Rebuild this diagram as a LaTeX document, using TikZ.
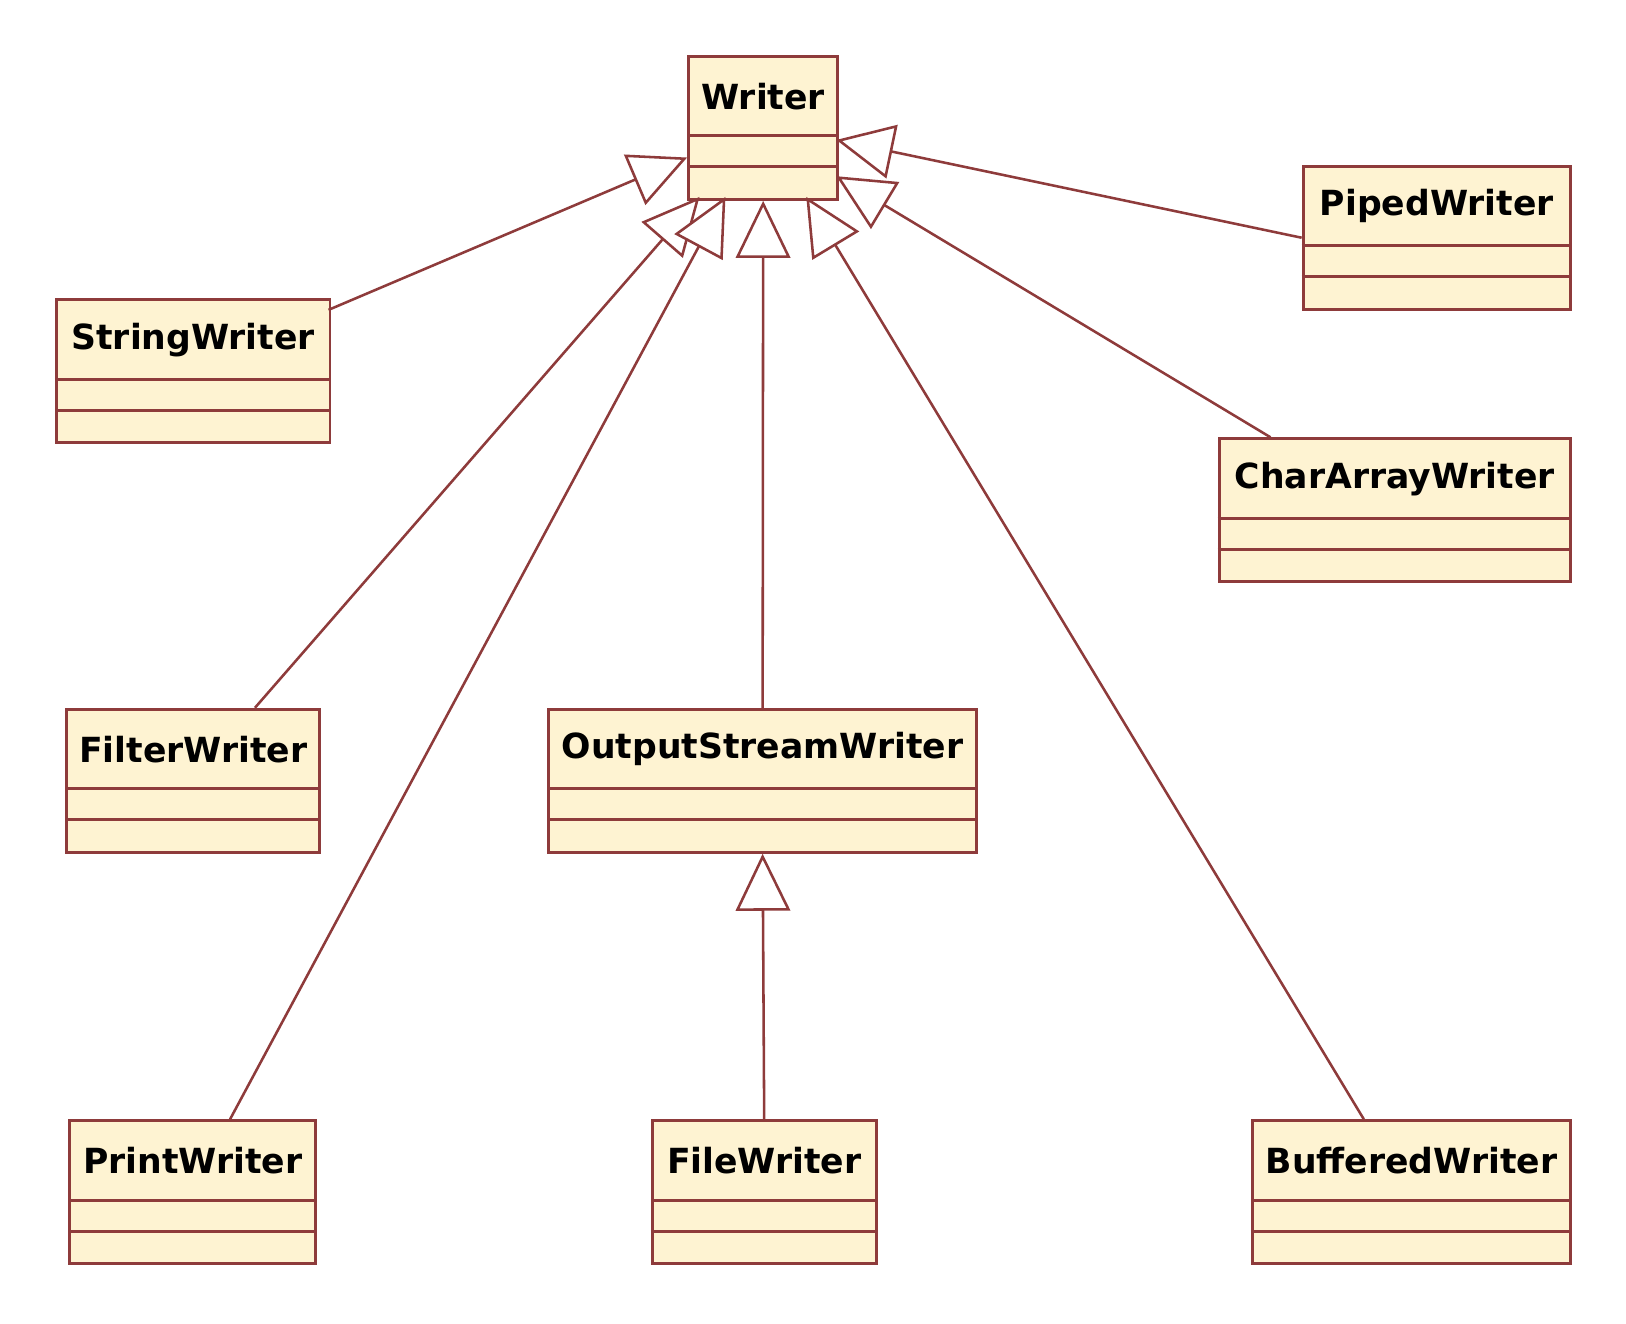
\documentclass[tikz,border=0pt]{standalone}
\usepackage{fontspec}
\setmainfont{DejaVu Sans}
\usetikzlibrary{calc,arrows.meta}
\definecolor{umlfill}{HTML}{FEF3D2}
\definecolor{umlline}{HTML}{8E3B3B}
\tikzset{
  cls/.style={draw=umlline,fill=umlfill,line width=1.6pt,minimum height=2.76cm,inner sep=0pt},
  inherit/.style={draw=umlline,line width=1.4pt,-{Triangle[open,length=1.1cm,width=1.05cm,fill=white,line width=1.4pt]}}
}
% class box: name, x, y, width, label
\newcommand\umlbox[5]{%
  \node[cls,anchor=north west,minimum width=#4cm] (#1) at (#2,#3) {};
  \node[font=\bfseries\fontsize{19}{21}\selectfont] (#1-t) at ($(#1.north)+(0,-0.8)$) {#5};
  \draw[umlline,line width=1.6pt] ($(#1.north west)+(0,-1.56)$) -- ($(#1.north east)+(0,-1.56)$);
  \draw[umlline,line width=1.6pt] ($(#1.north west)+(0,-2.16)$) -- ($(#1.north east)+(0,-2.16)$);
}
\begin{document}
\begin{tikzpicture}
  \useasboundingbox (0,0) rectangle (31.38,-25.55);

  % Classes
  \umlbox{wr}{13.26}{-1.06}{2.88}{Writer}
  \umlbox{sw}{1.06}{-5.76}{5.28}{StringWriter}
  \umlbox{pw}{25.12}{-3.18}{5.16}{PipedWriter}
  \umlbox{ca}{23.5}{-8.44}{6.78}{CharArrayWriter}
  \umlbox{fw}{1.26}{-13.66}{4.88}{FilterWriter}
  \umlbox{os}{10.56}{-13.66}{8.26}{OutputStreamWriter}
  \umlbox{pr}{1.32}{-21.6}{4.74}{PrintWriter}
  \umlbox{fi}{12.56}{-21.6}{4.32}{FileWriter}
  \umlbox{bw}{24.14}{-21.6}{6.14}{BufferedWriter}

  % Inheritance
  \draw[inherit] (6.34,-5.98) -- (13.26,-3.04);
  \draw[inherit] (pw.west) -- (16.14,-2.7);
  \draw[inherit] (24.52,-8.44) -- (16.14,-3.4);
  \draw[inherit] (4.92,-13.66) -- (13.5,-3.8);
  \draw[inherit] (4.44,-21.6) -- (14.0,-3.8);
  \draw[inherit] (os.north) -- (wr.south);
  \draw[inherit] (26.32,-21.6) -- (15.56,-3.8);
  \draw[inherit] (fi.north) -- (os.south);
\end{tikzpicture}
\end{document}
